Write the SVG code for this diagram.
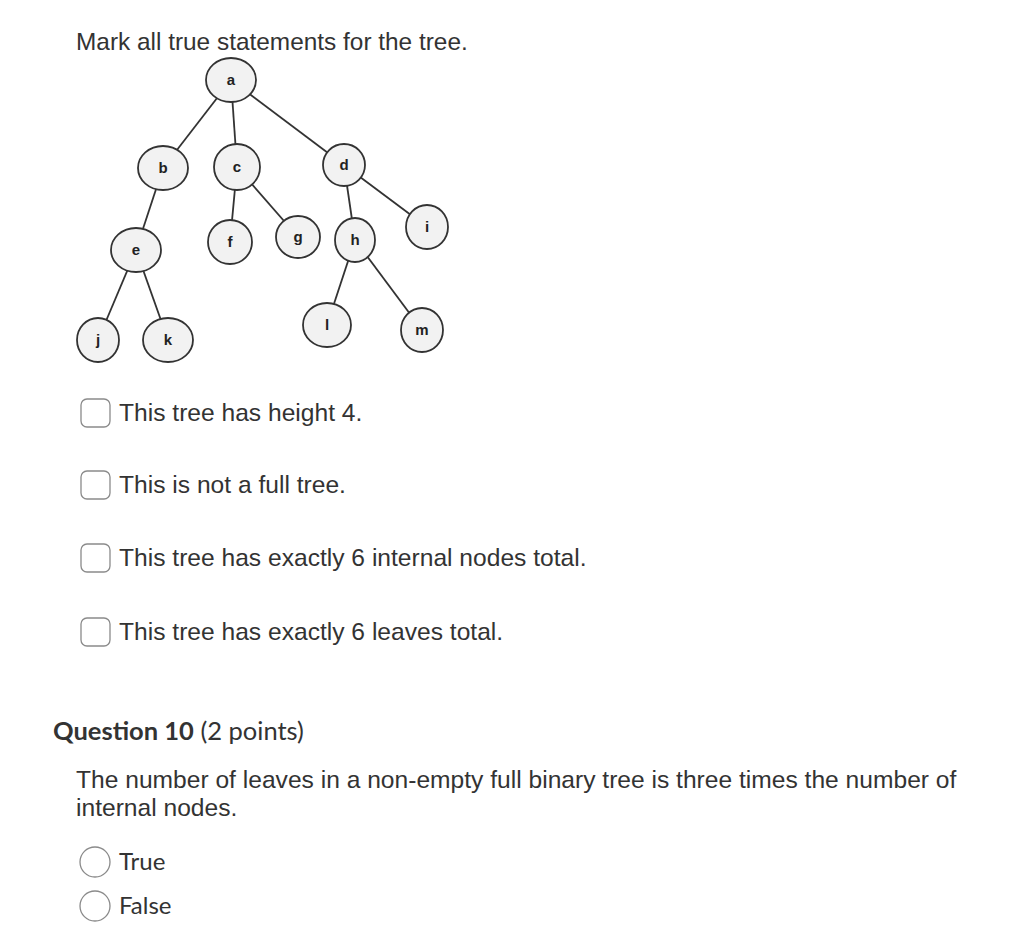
<svg xmlns="http://www.w3.org/2000/svg" width="1024" height="927" viewBox="0 0 1024 927">
<style>
.t{font-family:"Liberation Sans",Arial,sans-serif;font-size:24.6px;fill:#333}
.n ellipse{fill:#f2f2f2;stroke:#333;stroke-width:1.8}
.n text{font-family:"Liberation Sans",Arial,sans-serif;font-size:15px;font-weight:bold;fill:#222;text-anchor:middle}
.e line{stroke:#333;stroke-width:1.8}
.cb{fill:#fff;stroke:#8a8a8a;stroke-width:1.3}
</style>
<rect width="1024" height="927" fill="#fff"/>
<text class="t" x="76" y="50" style="font-size:24.4px">Mark all true statements for the tree.</text>
<g class="e">
<line x1="231" y1="80" x2="163" y2="168"/><line x1="231" y1="80" x2="237" y2="167"/><line x1="231" y1="80" x2="344" y2="165"/>
<line x1="163" y1="168" x2="136" y2="250"/><line x1="237" y1="167" x2="230" y2="242"/><line x1="237" y1="167" x2="298" y2="237"/>
<line x1="344" y1="165" x2="355" y2="240"/><line x1="344" y1="165" x2="427" y2="227"/>
<line x1="136" y1="250" x2="98" y2="340"/><line x1="136" y1="250" x2="168" y2="340"/>
<line x1="355" y1="240" x2="327" y2="325"/><line x1="355" y1="240" x2="422" y2="330"/>
</g>
<g id="a" class="n"><ellipse cx="231" cy="80" rx="25" ry="22"/><text x="231" y="85">a</text></g>
<g id="b" class="n"><ellipse cx="163" cy="168" rx="25" ry="22"/><text x="163" y="173">b</text></g>
<g id="c" class="n"><ellipse cx="237" cy="167" rx="23" ry="23"/><text x="237" y="172">c</text></g>
<g id="d" class="n"><ellipse cx="344" cy="165" rx="21" ry="21"/><text x="344" y="170">d</text></g>
<g id="e" class="n"><ellipse cx="136" cy="250" rx="25" ry="22"/><text x="136" y="255">e</text></g>
<g id="f" class="n"><ellipse cx="230" cy="242" rx="22" ry="22"/><text x="230" y="247">f</text></g>
<g id="g" class="n"><ellipse cx="298" cy="237" rx="22" ry="21"/><text x="298" y="242">g</text></g>
<g id="h" class="n"><ellipse cx="355" cy="240" rx="20" ry="22"/><text x="355" y="245">h</text></g>
<g id="i" class="n"><ellipse cx="427" cy="227" rx="21" ry="22"/><text x="427" y="232">i</text></g>
<g id="j" class="n"><ellipse cx="98" cy="340" rx="21" ry="22"/><text x="98" y="345">j</text></g>
<g id="k" class="n"><ellipse cx="168" cy="340" rx="25" ry="22"/><text x="168" y="345">k</text></g>
<g id="l" class="n"><ellipse cx="327" cy="325" rx="24" ry="22"/><text x="327" y="330">l</text></g>
<g id="m" class="n"><ellipse cx="422" cy="330" rx="21" ry="22"/><text x="422" y="335">m</text></g>
<rect class="cb" x="81" y="399" width="29" height="28" rx="6"/><text class="t" x="119" y="421">This tree has height 4.</text>
<rect class="cb" x="81" y="471" width="29" height="28" rx="6"/><text class="t" x="119" y="493">This is not a full tree.</text>
<rect class="cb" x="81" y="544" width="29" height="28" rx="6"/><text class="t" x="119" y="566">This tree has exactly 6 internal nodes total.</text>
<rect class="cb" x="81" y="618" width="29" height="28" rx="6"/><text class="t" x="119" y="640">This tree has exactly 6 leaves total.</text>
<text x="53" y="740" style="font-family:Lato,'Liberation Sans',sans-serif;font-size:25.5px;fill:#333"><tspan font-weight="bold">Question 10</tspan> (2 points)</text>
<text class="t" x="76" y="788">The number of leaves in a non-empty full binary tree is three times the number of</text>
<text class="t" x="76" y="816">internal nodes.</text>
<circle class="cb" cx="95" cy="862" r="15"/><text x="119" y="870" style="font-family:Lato,'Liberation Sans',sans-serif;font-size:24px;fill:#333">True</text>
<circle class="cb" cx="95" cy="906" r="15"/><text x="119" y="914" style="font-family:Lato,'Liberation Sans',sans-serif;font-size:24px;fill:#333">False</text>
</svg>
